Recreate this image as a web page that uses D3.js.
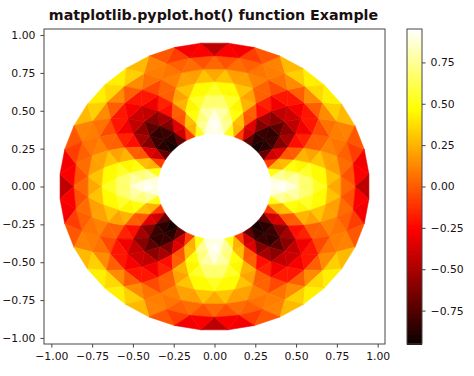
<!DOCTYPE html>
<html>
<head>
<meta charset="utf-8">
<script src="https://cdn.jsdelivr.net/npm/d3@7"></script>
<style>
  html, body { margin: 0; padding: 0; background: #fff; }
  svg { display: block; }
  text { font-family: "DejaVu Sans", sans-serif; fill: #1a1010; }
</style>
</head>
<body>
<svg id="chart" width="474" height="376"></svg>
<script>
// Values
const ringRadii = [0.35, 0.436, 0.521, 0.607, 0.693, 0.779, 0.864, 0.95];
const sectorCount = 36;
const ring0 = [.95,.80,.20,-.46,-.92,-.92,-.46,.20,.80,.95,.80,.20,-.46,-.92,-.92,-.46,.20,.80,.95,.80,.20,-.46,-.92,-.92,-.46,.20,.80,.95,.80,.20,-.46,-.92,-.92,-.46,.20,.80];
const ring1 = [.92,.55,.00,-.72,-.93,-.72,.00,.55,.92,.92,.55,.00,-.72,-.93,-.72,.00,.55,.92,.92,.55,.00,-.72,-.93,-.72,.00,.55,.92,.92,.55,.00,-.72,-.93,-.72,.00,.55,.92];
const ring2 = [.82,.62,.30,-.32,-.80,-.80,-.32,.30,.62,.82,.62,.30,-.32,-.80,-.80,-.32,.30,.62,.82,.62,.30,-.32,-.80,-.80,-.32,.30,.62,.82,.62,.30,-.32,-.80,-.80,-.32,.30,.62];
const ring3 = [.60,.42,.05,-.40,-.55,-.40,.05,.42,.60,.60,.42,.05,-.40,-.55,-.40,.05,.42,.60,.60,.42,.05,-.40,-.55,-.40,.05,.42,.60,.60,.42,.05,-.40,-.55,-.40,.05,.42,.60];
const ring4 = [.42,.35,.15,-.15,-.33,-.33,-.15,.15,.35,.42,.35,.15,-.15,-.33,-.33,-.15,.15,.35,.42,.35,.15,-.15,-.33,-.33,-.15,.15,.35,.42,.35,.15,-.15,-.33,-.33,-.15,.15,.35];
const ring5 = [.12,.12,.08,-.08,-.18,-.08,.08,.12,.12,.12,.12,.08,-.08,-.18,-.08,.08,.12,.12,.12,.12,.08,-.08,-.18,-.08,.08,.12,.12,.12,.12,.08,-.08,-.18,-.08,.08,.12,.12];
const ring6 = [-.12,-.08,.02,.20,.30,.30,.20,.02,-.08,-.12,-.08,.02,.20,.30,.30,.20,.02,-.08,-.12,-.08,.02,.20,.30,.30,.20,.02,-.08,-.12,-.08,.02,.20,.30,.30,.20,.02,-.08];
const ring7 = [-.60,-.18,.12,.50,.48,.50,.12,-.18,-.60,-.60,-.18,.12,.50,.48,.50,.12,-.18,-.60,-.60,-.18,.12,.50,.48,.50,.12,-.18,-.60,-.60,-.18,.12,.50,.48,.50,.12,-.18,-.60];
const ringValues = [ring0, ring1, ring2, ring3, ring4, ring5, ring6, ring7];

const axisTicks = [-1, -0.75, -0.5, -0.25, 0, 0.25, 0.5, 0.75, 1];
const colorbarTicks = [-0.75, -0.5, -0.25, 0, 0.25, 0.5, 0.75];
const colorDomain = [-0.952, 0.952];
const titleText = 'matplotlib.pyplot.hot() function Example';

// Layout
const plot = { left: 44, right: 385, top: 29, bottom: 344 };
const bar = { left: 407, right: 422 };
const axisColor = '#4a4444';

const svg = d3.select('#chart');

const xScale = d3.scaleLinear().domain([-1.045, 1.045]).range([plot.left, plot.right]);
const yScale = d3.scaleLinear().domain([-1.04, 1.04]).range([plot.bottom, plot.top]);
const barScale = d3.scaleLinear().domain(colorDomain).range([plot.bottom, plot.top]);
const normScale = d3.scaleLinear().domain(colorDomain).range([0, 1]);

// matplotlib "hot" colormap
const hotR = d3.scaleLinear().domain([0, 0.365, 1]).range([0.0416, 1, 1]);
const hotG = d3.scaleLinear().domain([0, 0.365, 0.746, 1]).range([0, 0, 1, 1]);
const hotB = d3.scaleLinear().domain([0, 0.746, 1]).range([0, 0, 1]);
function hot(value) {
  const t = normScale(value);
  return d3.rgb(hotR(t) * 255, hotG(t) * 255, hotB(t) * 255).formatHex();
}

// Mesh nodes: every other ring is turned by half a sector
const nodes = [];
ringValues.forEach((values, ringIndex) => {
  values.forEach((value, k) => {
    const angle = (k + (ringIndex % 2) / 2) * 2 * Math.PI / sectorCount;
    const radius = ringRadii[ringIndex];
    nodes.push({ x: radius * Math.cos(angle), y: radius * Math.sin(angle), value });
  });
});

// Triangulate and drop the triangles that fall in the hole
const delaunay = d3.Delaunay.from(nodes, d => d.x, d => d.y);
const triangles = [];
for (let i = 0; i < delaunay.triangles.length; i += 3) {
  const corners = [delaunay.triangles[i], delaunay.triangles[i + 1], delaunay.triangles[i + 2]].map(j => nodes[j]);
  const cx = d3.mean(corners, d => d.x);
  const cy = d3.mean(corners, d => d.y);
  if (Math.hypot(cx, cy) < ringRadii[0]) continue;
  triangles.push({ corners, value: d3.mean(corners, d => d.value) });
}

// Soften the mesh a little, the reference is a compressed image
svg.append('filter')
    .attr('id', 'soften')
    .append('feGaussianBlur')
    .attr('stdDeviation', 0.7);

svg.append('g')
    .attr('class', 'mesh')
    .attr('filter', 'url(#soften)')
    .selectAll('path')
    .data(triangles)
    .enter()
    .append('path')
    .attr('d', d => 'M' + d.corners.map(c => `${xScale(c.x)},${yScale(c.y)}`).join('L') + 'Z')
    .attr('fill', d => hot(d.value))
    .attr('stroke', d => hot(d.value))
    .attr('stroke-width', 0.6);

// Main axes frame and ticks
svg.append('rect')
    .attr('x', plot.left)
    .attr('y', plot.top)
    .attr('width', plot.right - plot.left)
    .attr('height', plot.bottom - plot.top)
    .attr('fill', 'none')
    .attr('stroke', axisColor);

const fmt = d3.format('.2f');

function styleAxis(g) {
  g.select('.domain').remove();
  g.selectAll('line').attr('stroke', axisColor);
  g.selectAll('text').attr('font-size', 10.8).style('font-family', null);
}

svg.append('g')
    .attr('transform', `translate(0,${plot.bottom})`)
    .call(d3.axisBottom(xScale).tickValues(axisTicks).tickFormat(fmt).tickSizeInner(3.6).tickSizeOuter(0).tickPadding(5))
    .call(styleAxis);

svg.append('g')
    .attr('transform', `translate(${plot.left},0)`)
    .call(d3.axisLeft(yScale).tickValues(axisTicks).tickFormat(fmt).tickSizeInner(3.6).tickSizeOuter(0).tickPadding(5))
    .call(styleAxis);

svg.append('text')
    .attr('x', 213.5)
    .attr('y', 20)
    .attr('text-anchor', 'middle')
    .attr('font-size', 14.25)
    .attr('font-weight', 'bold')
    .text(titleText);

// Colorbar
const barSteps = d3.range(256);
const stepValue = d3.scaleLinear().domain([0, 255]).range(colorDomain);
svg.append('g')
    .selectAll('rect')
    .data(barSteps)
    .enter()
    .append('rect')
    .attr('x', bar.left)
    .attr('width', bar.right - bar.left)
    .attr('y', d => barScale(stepValue(d)) - 1)
    .attr('height', 2)
    .attr('fill', d => hot(stepValue(d)));

svg.append('rect')
    .attr('x', bar.left)
    .attr('y', plot.top)
    .attr('width', bar.right - bar.left)
    .attr('height', plot.bottom - plot.top)
    .attr('fill', 'none')
    .attr('stroke', axisColor);

svg.append('g')
    .attr('transform', `translate(${bar.right},0)`)
    .call(d3.axisRight(barScale).tickValues(colorbarTicks).tickFormat(fmt).tickSizeInner(3.6).tickSizeOuter(0).tickPadding(5))
    .call(styleAxis);
</script>
</body>
</html>
